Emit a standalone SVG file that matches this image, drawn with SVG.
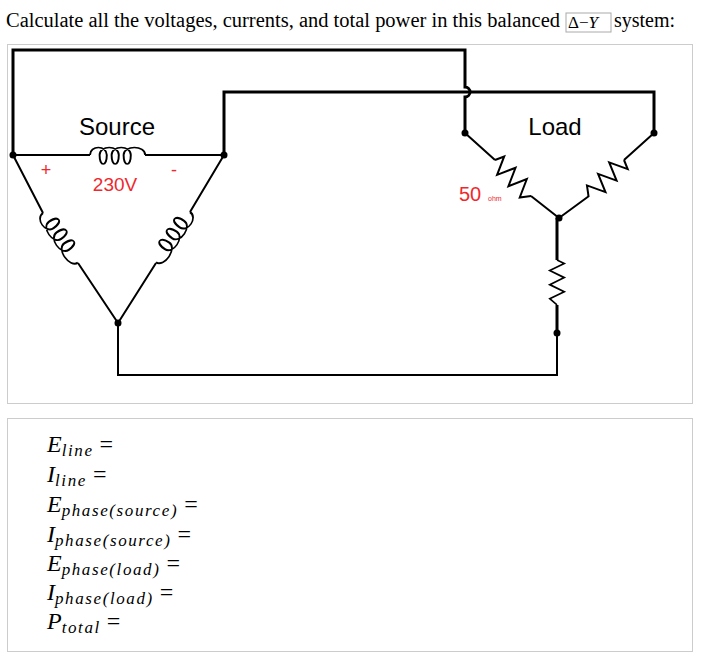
<svg xmlns="http://www.w3.org/2000/svg" width="704" height="668" viewBox="0 0 704 668">
<style>
.w{fill:none;stroke:#000;stroke-width:2}
.t{fill:none;stroke:#000;stroke-width:3}
.c{fill:none;stroke:#000;stroke-width:1.6}
.s{font-family:"Liberation Sans",Arial,sans-serif}
.m{font-family:"Liberation Serif","Times New Roman",serif;font-style:italic}
.r{fill:#f0282d}
.sub{font-size:17px;letter-spacing:1.6px}
</style>
<defs>
<path id="coil" class="c" d="M0,0 C0,-10 14,-10 14,0 C14,12 8,12 8,0 C8,-10 24,-10 24,0 C24,12 18,12 18,0 C18,-10 34,-10 34,0 C34,12 28,12 28,0 C28,-10 46,-10 46,0"/>
<path id="res" class="w" d="M0,0 L4,-9 L12,9 L20,-9 L28,9 L36,-9 L44,9 L51,0"/>
</defs>
<rect width="704" height="668" fill="#fff"/>
<text x="6" y="27" font-family="Liberation Serif,serif" font-size="20" textLength="554" lengthAdjust="spacingAndGlyphs">Calculate all the voltages, currents, and total power in this balanced</text>
<rect x="566" y="13" width="45" height="19" fill="none" stroke="#aaa"/>
<text x="568" y="28" font-family="Liberation Serif,serif" font-size="17">Δ−<tspan font-style="italic">Y</tspan></text>
<text x="614" y="27" font-family="Liberation Serif,serif" font-size="20">system:</text>
<rect x="7.5" y="44.5" width="685" height="359" fill="none" stroke="#ccc"/>
<rect x="7.5" y="418.5" width="685" height="233" fill="none" stroke="#ccc"/>
<g id="connectors">
<path class="t" d="M13,155 V50 H465 V87 A5,5 0 0 1 465,97 V133"/>
<path class="t" d="M224,155 V92 H654 V133"/>
<path class="w" d="M13,155 H90 M145,155 H224"/>
<path class="w" d="M13,155 L43,213 M78,263 L118,323 M224,155 L190,212 M156,263 L118,323"/>
<path class="w" d="M118,323 V375 H557 V333"/>
<path class="t" d="M557,333 V305 M557,260 V218"/>
<path class="w" d="M465,133 L495,160 M531,196 L559,218 M654,133 L624,160 M589,196 L559,218"/>
</g>
<g id="source">
<use href="#coil" transform="translate(90,155) scale(1.2,1)"/>
<use href="#coil" transform="translate(43,213) rotate(55) scale(1.32,-1)"/>
<use href="#coil" transform="translate(190,212) rotate(124) scale(1.32,1)"/>
<text x="117" y="135" text-anchor="middle" class="s" font-size="24">Source</text>
<text x="115" y="191" text-anchor="middle" class="s r" font-size="19">230V</text>
<text x="46" y="176" text-anchor="middle" class="s r" font-size="18">+</text>
<text x="174" y="176" text-anchor="middle" class="s r" font-size="18">-</text>
<circle cx="13" cy="155" r="3.5"/><circle cx="224" cy="155" r="3.5"/><circle cx="118" cy="323" r="3.5"/>
</g>
<g id="load">
<use href="#res" transform="translate(495,160) rotate(45)"/>
<use href="#res" transform="translate(624,160) rotate(134)"/>
<use href="#res" transform="translate(557,260) rotate(90) scale(0.88,0.8)"/>
<text x="555" y="135" text-anchor="middle" class="s" font-size="24">Load</text>
<text x="459" y="201" class="s r" font-size="20">50</text>
<text x="488" y="201" class="s r" font-size="7">ohm</text>
<circle cx="465" cy="133" r="3.5"/><circle cx="654" cy="133" r="3.5"/><circle cx="559" cy="218" r="3.5"/><circle cx="557" cy="333" r="3.5"/>
</g>
<g id="equations" class="m" font-size="24">
<text x="47" y="452">E<tspan class="sub" dy="4">line</tspan><tspan font-style="normal" dy="-4"> =</tspan></text>
<text x="47" y="482">I<tspan class="sub" dy="4">line</tspan><tspan font-style="normal" dy="-4"> =</tspan></text>
<text x="47" y="512">E<tspan class="sub" dy="4">phase(source)</tspan><tspan font-style="normal" dy="-4"> =</tspan></text>
<text x="47" y="542">I<tspan class="sub" dy="4">phase(source)</tspan><tspan font-style="normal" dy="-4"> =</tspan></text>
<text x="47" y="571">E<tspan class="sub" dy="4">phase(load)</tspan><tspan font-style="normal" dy="-4"> =</tspan></text>
<text x="47" y="600">I<tspan class="sub" dy="4">phase(load)</tspan><tspan font-style="normal" dy="-4"> =</tspan></text>
<text x="47" y="629">P<tspan class="sub" dy="4">total</tspan><tspan font-style="normal" dy="-4"> =</tspan></text>
</g>
</svg>
